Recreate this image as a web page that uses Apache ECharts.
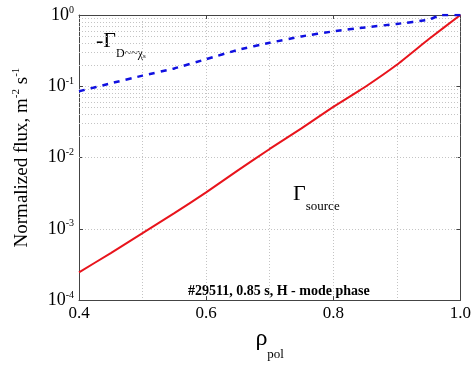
<!DOCTYPE html>
<html><head><meta charset="utf-8">
<script src="https://cdn.jsdelivr.net/npm/echarts@6/dist/echarts.min.js"></script>
<style>html,body{margin:0;padding:0;background:#fff}#c{width:474px;height:366px}</style>
</head><body><div id="c"></div>
<script>
const rho = [0.40,0.45,0.50,0.55,0.60,0.65,0.70,0.75,0.80,0.85,0.90,0.95,1.00];
const gammaSource = [2.45e-4,4.57e-4,8.71e-4,1.66e-3,3.24e-3,6.61e-3,1.32e-2,2.57e-2,5.13e-2,9.77e-2,0.200,0.457,1.0];
const rhoD = [0.40,0.45,0.50,0.55,0.60,0.65,0.70,0.75,0.80,0.85,0.90,0.95,0.97,1.00];
const gammaD = [0.085,0.110,0.141,0.178,0.240,0.324,0.407,0.501,0.589,0.670,0.750,0.860,1.0,1.0];
const xTicks = [0.4,0.6,0.8,1.0];
const yDecades = [1e-4,1e-3,1e-2,1e-1,1];
const minorY = [];
for (let d=-4; d<0; d++) for (let m=2; m<=9; m++) minorY.push(m*Math.pow(10,d));

const serif = '"Liberation Serif","DejaVu Serif",serif';
const gridLine = {show:true, lineStyle:{color:'#c4c4c4', type:[1,2], width:1}};
const axisLineS = {show:true, lineStyle:{color:'#444', width:1}};
const chart = echarts.init(document.getElementById('c'));
chart.setOption({
  animation:false,
  grid:{left:79, right:11, top:15, bottom:53},
  xAxis:[{
    type:'value', min:0.4, max:1.0, interval:0.2, position:'bottom',
    axisLine:axisLineS, axisTick:{show:true, inside:true, length:4, lineStyle:{color:'#444'}},
    axisLabel:{color:'#000', fontFamily:serif, fontSize:17, margin:5, formatter:v=>v.toFixed(1)},
    splitLine:gridLine,
    minorTick:{show:false, splitNumber:2},
    minorSplitLine:gridLine,
    name:'{r|ρ}{p|pol}', nameLocation:'middle', nameGap:24,
    nameTextStyle:{rich:{r:{fontFamily:serif, fontSize:24, color:'#000', verticalAlign:'top', lineHeight:24}, p:{fontFamily:serif, fontSize:13, color:'#000', verticalAlign:'bottom', lineHeight:34}}}
  },{
    type:'value', min:0.4, max:1.0, interval:0.2, position:'top',
    axisLine:axisLineS, axisTick:{show:true, inside:true, length:4, lineStyle:{color:'#444'}},
    axisLabel:{show:false}, splitLine:{show:false}
  }],
  yAxis:[{
    type:'log', logBase:10, min:1e-4, max:1, position:'left',
    axisLine:axisLineS, axisTick:{show:true, inside:true, length:4, lineStyle:{color:'#444'}},
    axisLabel:{margin:5, formatter:v=>'{b|10}{e|'+Math.round(Math.log10(v))+'}',
      rich:{b:{fontFamily:serif, fontSize:18, color:'#000', lineHeight:20}, e:{fontFamily:serif, fontSize:10, color:'#000', verticalAlign:'top', lineHeight:10}}},
    splitLine:gridLine,
    name:'{t|Normalized flux, m}{s|-2}{t| s}{s|-1}', nameLocation:'middle', nameGap:46, nameRotate:90,
    nameTextStyle:{rich:{t:{fontFamily:serif, fontSize:19, color:'#000', lineHeight:22}, s:{fontFamily:serif, fontSize:11, color:'#000', verticalAlign:'top', lineHeight:12}}}
  },{
    type:'log', logBase:10, min:1e-4, max:1, position:'right',
    axisLine:axisLineS, axisTick:{show:true, inside:true, length:4, lineStyle:{color:'#444'}},
    axisLabel:{show:false}, splitLine:{show:false}
  }],
  series:[{
    type:'line', name:'grid', data:[], xAxisIndex:0, yAxisIndex:0, silent:true,
    markLine:{silent:true, symbol:'none', label:{show:false},
      lineStyle:{color:'#c4c4c4', type:[1,2], width:1},
      data:minorY.map(v=>({yAxis:v}))}
  },{
    type:'line', name:'source', data:rho.map((x,i)=>[x,gammaSource[i]]), showSymbol:false, smooth:0.15,
    lineStyle:{color:'#e8141c', width:2}, xAxisIndex:0, yAxisIndex:0, z:5
  },{
    type:'line', name:'D', data:rhoD.map((x,i)=>[x,gammaD[i]]), showSymbol:false, smooth:0.15,
    lineStyle:{color:'#1010e0', width:2.5, type:[6,6]}, xAxisIndex:0, yAxisIndex:0, z:5
  }],
  graphic:[
    {type:'text', left:96, top:30, style:{text:'{g|-Γ}{d|D~~χ}{s|s}', rich:{
      g:{fontFamily:serif, fontSize:22, fill:'#000', verticalAlign:'top', lineHeight:30},
      d:{fontFamily:serif, fontSize:12, fill:'#000', verticalAlign:'bottom', lineHeight:30},
      s:{fontFamily:serif, fontSize:7, fill:'#000', verticalAlign:'bottom', lineHeight:26}}}},
    {type:'text', left:293, top:183, style:{text:'{g|Γ}{s|source}', rich:{
      g:{fontFamily:serif, fontSize:22, fill:'#000', verticalAlign:'top', lineHeight:30},
      s:{fontFamily:serif, fontSize:13, fill:'#000', verticalAlign:'bottom', lineHeight:30}}}},
    {type:'text', left:188, top:284, style:{text:'#29511, 0.85 s, H - mode phase', font:'bold 14px '+serif, fill:'#000'}}
  ]
});
</script></body></html>
